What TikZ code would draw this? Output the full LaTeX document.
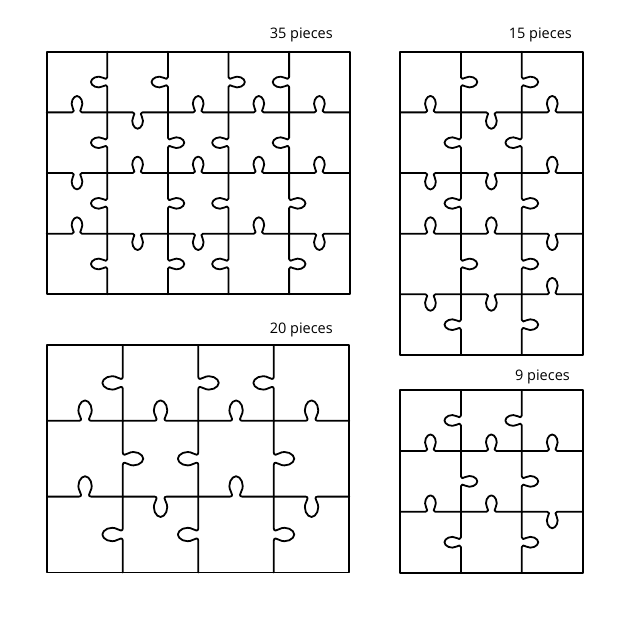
\documentclass[tikz,border=0pt]{standalone}
\usepackage{fontspec}
\setmainfont{Open Sans}
\tikzset{
 pz/.style={line width=1.8pt,line join=round,line cap=round},
 lbl/.style={anchor=base east,inner sep=0pt,font=\fontsize{14.5}{17}\selectfont},
 hk/.pic={\draw[pz] (0,0) -- (0.42,0) .. controls (0.46,0) and (0.45,0.04) .. (0.43,0.07)
   .. controls (0.38,0.16) and (0.44,0.27) .. (0.5,0.27)
   .. controls (0.56,0.27) and (0.62,0.16) .. (0.57,0.07)
   .. controls (0.55,0.04) and (0.54,0) .. (0.58,0) -- (1,0);},
 vk/.pic={\draw[pz] (0,0) -- (0,0.42) .. controls (0,0.46) and (0.04,0.45) .. (0.07,0.43)
   .. controls (0.16,0.38) and (0.27,0.44) .. (0.27,0.5)
   .. controls (0.27,0.56) and (0.16,0.62) .. (0.07,0.57)
   .. controls (0.04,0.55) and (0,0.54) .. (0,0.58) -- (0,1);}
}
\newcommand\puzzle[8]{%
 \draw[pz] (#1,#2) rectangle ({#1+#5*#3},{#2+#6*#4});
 \foreach \r/\c/\d in {#7} \pic[shift={({#1+\c*#3},{#2+\r*#4})}, xscale=#3, yscale={\d*#3}] {hk};
 \foreach \c/\r/\d in {#8} \pic[shift={({#1+\c*#3},{#2+\r*#4})}, yscale=#4, xscale={\d*#4}] {vk};
}
\begin{document}
\begin{tikzpicture}[x=1pt,y=-1pt]
\useasboundingbox (0,0) rectangle (626,626);
\puzzle{46.7}{51.7}{60.6}{60.65}{5}{4}%
 {1/0/-1,1/1/1,1/2/-1,1/3/-1,1/4/-1,2/0/1,2/1/-1,2/2/-1,2/3/-1,2/4/-1,3/0/-1,3/1/1,3/2/1,3/3/-1,3/4/1}%
 {1/0/-1,1/1/-1,1/2/-1,1/3/-1,2/0/-1,2/1/1,2/2/1,2/3/1,3/0/1,3/1/-1,3/2/-1,3/3/-1,4/0/-1,4/1/-1,4/2/1,4/3/1}
\puzzle{400}{51.7}{60.9}{60.66}{3}{5}%
 {1/0/-1,1/1/1,1/2/-1,2/0/1,2/1/1,2/2/-1,3/0/-1,3/1/-1,3/2/1,4/0/1,4/1/1,4/2/-1}%
 {1/0/1,1/1/-1,1/2/-1,1/3/1,1/4/-1,2/0/1,2/1/-1,2/2/1,2/3/1,2/4/1}
\puzzle{47.3}{345}{75.5}{75.8}{4}{3}%
 {1/0/-1,1/1/-1,1/2/-1,1/3/-1,2/0/-1,2/1/1,2/2/-1,2/3/1}%
 {1/0/-1,1/1/1,1/2/-1,2/0/1,2/1/-1,2/2/-1,3/0/-1,3/1/1,3/2/1}
\puzzle{400}{390}{60.9}{60.9}{3}{3}%
 {1/0/-1,1/1/-1,1/2/-1,2/0/-1,2/1/-1,2/2/1}%
 {1/0/-1,1/1/1,1/2/-1,2/0/-1,2/1/1,2/2/1}
\node[lbl] (t35) at (333,39) {35 pieces};
\node[lbl] (t15) at (572,39) {15 pieces};
\node[lbl] (t20) at (333,333) {20 pieces};
\node[lbl] (t9) at (570,380) {9 pieces};
\end{tikzpicture}
\end{document}
